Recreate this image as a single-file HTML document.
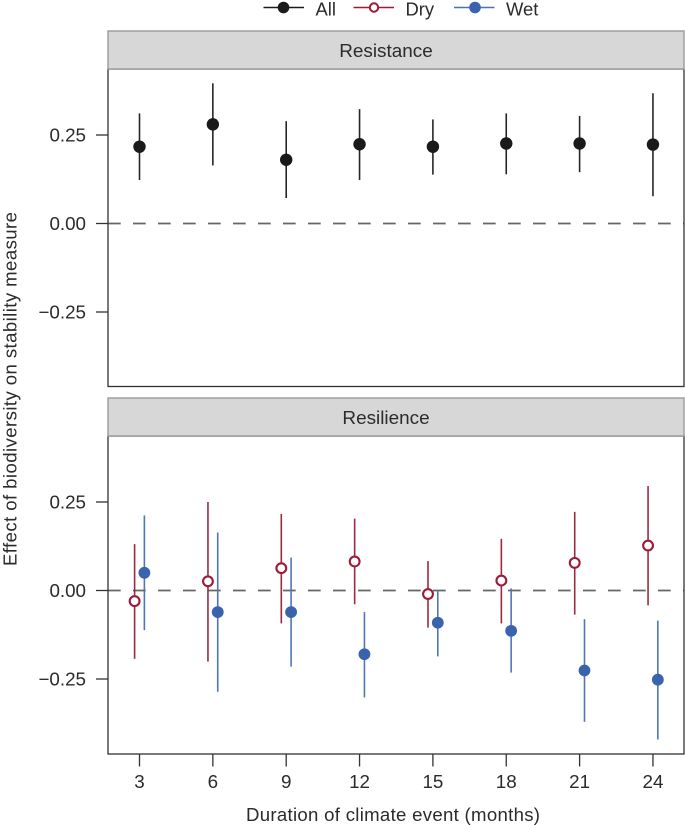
<!DOCTYPE html>
<html lang="en">
<head>
<meta charset="utf-8">
<title>Effect of biodiversity on stability measure</title>
<style>
  html, body { margin: 0; padding: 0; background: #fff; }
  svg { display: block; }
  text { font-family: "Liberation Sans", sans-serif; fill: #2b2b2b; }
</style>
</head>
<body>
<svg id="chart" xmlns="http://www.w3.org/2000/svg" width="685" height="825" viewBox="0 0 685 825">
  <rect x="0" y="0" width="685" height="825" fill="#ffffff"/>

  <g>
    <g>
      <line x1="263.5" x2="304" y1="7.5" y2="7.5" stroke="#1a1a1a" stroke-width="1.5"/>
      <circle cx="283.5" cy="7.5" r="5.8" fill="#1a1a1a"/>
      <text x="315.5" y="15.5" font-size="18.4">All</text>
    </g>
    <g>
      <line x1="353.5" x2="394" y1="7.5" y2="7.5" stroke="#9b1c36" stroke-width="1.5"/>
      <circle cx="374" cy="7.5" r="4.2" fill="#ffffff" stroke="#9b1c36" stroke-width="2"/>
      <text x="405.5" y="15.5" font-size="18.4">Dry</text>
    </g>
    <g>
      <line x1="454" x2="494.5" y1="7.5" y2="7.5" stroke="#4a72b5" stroke-width="1.5"/>
      <circle cx="475" cy="7.5" r="5.8" fill="#3a63ad"/>
      <text x="506" y="15.5" font-size="18.4">Wet</text>
    </g>
  </g>

  <g id="plot-layer"></g>

  <rect x="108" y="69" width="576" height="317.5" fill="none" stroke="#333333" stroke-width="1.3"/>
  <rect x="108" y="436" width="576" height="318" fill="none" stroke="#333333" stroke-width="1.3"/>

  <g>
    <rect x="108" y="31" width="576" height="38" fill="#d7d7d7" stroke="#9a9a9a" stroke-width="1.4"/>
    <text x="386" y="57" font-size="18.9" text-anchor="middle">Resistance</text>
  </g>
  <g>
    <rect x="108" y="398" width="576" height="38" fill="#d7d7d7" stroke="#9a9a9a" stroke-width="1.4"/>
    <text x="386" y="424" font-size="18.9" text-anchor="middle">Resilience</text>
  </g>

  <text transform="translate(16.5,566) rotate(-90)" font-size="18.6" textLength="354" lengthAdjust="spacing">Effect of biodiversity on stability measure</text>
  <text x="246" y="821" font-size="18.6" textLength="294" lengthAdjust="spacing">Duration of climate event (months)</text>
</svg>

<script>
// Chart data
const durations = [3, 6, 9, 12, 15, 18, 21, 24];
const yTickValues = [0.25, 0, -0.25];
const yTickLabels = ["0.25", "0.00", "\u22120.25"];

const allMean = [0.217, 0.280, 0.180, 0.224, 0.217, 0.226, 0.226, 0.223];
const allLow = [0.123, 0.164, 0.072, 0.123, 0.138, 0.139, 0.145, 0.077];
const allHigh = [0.311, 0.396, 0.289, 0.323, 0.294, 0.311, 0.304, 0.368];

const dryMean = [-0.030, 0.026, 0.063, 0.082, -0.010, 0.028, 0.078, 0.127];
const dryLow = [-0.193, -0.201, -0.093, -0.039, -0.105, -0.093, -0.068, -0.042];
const dryHigh = [0.131, 0.250, 0.216, 0.203, 0.083, 0.146, 0.222, 0.295];

const wetMean = [0.050, -0.061, -0.061, -0.180, -0.091, -0.114, -0.226, -0.252];
const wetLow = [-0.112, -0.286, -0.215, -0.302, -0.186, -0.232, -0.371, -0.421];
const wetHigh = [0.212, 0.164, 0.093, -0.061, 0.001, 0.006, -0.081, -0.085];

// Axis functions
function xScale(month) {
  return 139.5 + (month - 3) * 24.45;
}
function yResistance(value) {
  return 223.5 - value * 354;
}
function yResilience(value) {
  return 590.5 - value * 354;
}

const SVG_NS = "http://www.w3.org/2000/svg";
const layer = document.getElementById("plot-layer");

function makeLine(parent, x1, y1, x2, y2, color, width) {
  const el = document.createElementNS(SVG_NS, "line");
  el.setAttribute("x1", x1);
  el.setAttribute("y1", y1);
  el.setAttribute("x2", x2);
  el.setAttribute("y2", y2);
  el.setAttribute("stroke", color);
  el.setAttribute("stroke-width", width);
  parent.appendChild(el);
  return el;
}

function makeLabel(parent, x, y, anchor, content) {
  const el = document.createElementNS(SVG_NS, "text");
  el.setAttribute("x", x);
  el.setAttribute("y", y);
  el.setAttribute("text-anchor", anchor);
  el.setAttribute("font-size", "18.8");
  el.textContent = content;
  parent.appendChild(el);
  return el;
}

function drawYAxis(yScale, panelName) {
  const axis = document.createElementNS(SVG_NS, "g");
  
  
  yTickValues.forEach(function (value, i) {
    const y = yScale(value);
    const tick = makeLine(axis, 96, y, 108, y, "#333333", 1.3);
    
    
    const label = makeLabel(axis, 86, y + 6.5, "end", yTickLabels[i]);
    
    
  });
  layer.appendChild(axis);
}

function drawZeroLine(yScale, panelName) {
  const y = yScale(0);
  const line = makeLine(layer, 108, y, 684, y, "#666666", 1.8);
  line.setAttribute("stroke-dasharray", "12.7 12.3");
  
  
}

function drawXAxis() {
  const axis = document.createElementNS(SVG_NS, "g");
  
  
  durations.forEach(function (month) {
    const x = xScale(month);
    const tick = makeLine(axis, x, 754, x, 766.5, "#333333", 1.3);
    
    
    const label = makeLabel(axis, x, 788, "middle", String(month));
    
    
  });
  layer.appendChild(axis);
}

function drawSeries(seriesName, yScale, mean, low, high, dodge, lineColor, pointColor, hollow, radius) {
  const group = document.createElementNS(SVG_NS, "g");
  
  
  durations.forEach(function (month, i) {
    const x = xScale(month + dodge);
    const whisker = makeLine(group, x, yScale(low[i]), x, yScale(high[i]), lineColor, 1.6);
    
    
    const point = document.createElementNS(SVG_NS, "circle");
    
    
    point.setAttribute("cx", x);
    point.setAttribute("cy", yScale(mean[i]));
    point.setAttribute("r", radius);
    if (hollow) {
      point.setAttribute("fill", "#ffffff");
      point.setAttribute("stroke", pointColor);
      point.setAttribute("stroke-width", 2.1);
    } else {
      point.setAttribute("fill", pointColor);
    }
    group.appendChild(point);
  });
  layer.appendChild(group);
}

drawZeroLine(yResistance, "resistance");
drawZeroLine(yResilience, "resilience");
drawYAxis(yResistance, "resistance");
drawYAxis(yResilience, "resilience");
drawXAxis();
drawSeries("all", yResistance, allMean, allLow, allHigh, 0, "#262626", "#1a1a1a", false, 6.2);
drawSeries("wet", yResilience, wetMean, wetLow, wetHigh, 0.2, "#4f76b6", "#3a63ad", false, 5.9);
drawSeries("dry", yResilience, dryMean, dryLow, dryHigh, -0.2, "#9b2a44", "#9b1c36", true, 4.9);
</script>
</body>
</html>
